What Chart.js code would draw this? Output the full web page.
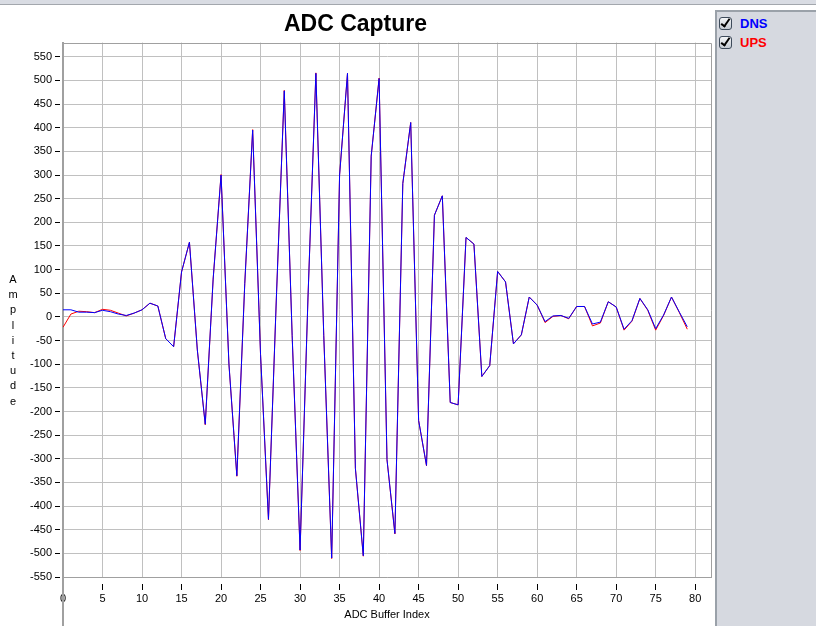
<!DOCTYPE html>
<html><head><meta charset="utf-8">
<script src="https://cdn.jsdelivr.net/npm/chart.js@4.4.1/dist/chart.umd.min.js"></script>
<style>
html,body{margin:0;padding:0;background:#fff;width:816px;height:626px;overflow:hidden;font-family:'Liberation Sans',Arial,sans-serif;}
#wrap{position:absolute;left:0;top:0;width:722px;height:626px;}
#topband{position:absolute;left:0;top:0;width:816px;height:4px;background:#d9dce3;border-bottom:1px solid #a3a7ad;z-index:3;}
#panel{position:absolute;left:715px;top:10px;width:101px;height:616px;background:#d6d9e0;border-left:2px solid #9aa1a9;border-top:2px solid #9aa1a9;box-sizing:border-box;z-index:2;}
.item{position:absolute;left:2px;height:14px;display:flex;align-items:center;}
.cb{width:11px;height:11px;border:1px solid #3e4b5b;border-radius:3px;background:linear-gradient(#f4f6f8,#c3c9d1);position:relative;}
.cb::after{content:'';position:absolute;left:3px;top:-1px;width:3px;height:8px;border-right:2px solid #000;border-bottom:2px solid #000;transform:rotate(35deg);}
.lbl{margin-left:8px;font-weight:bold;font-size:13px;}
#ytitle{position:absolute;left:6px;top:272px;width:14px;text-align:center;font-size:11px;line-height:15.2px;color:#000;}
</style>
</head><body>
<div id="topband"></div>
<div id="wrap"><canvas id="c"></canvas></div>
<div id="ytitle"></div>
<div id="panel">
  <div class="item" style="top:4px"><span class="cb"></span><span class="lbl" style="color:#0000ff">DNS</span></div>
  <div class="item" style="top:23px"><span class="cb"></span><span class="lbl" style="color:#ff0000">UPS</span></div>
</div>
<script>
const chartTitle = 'ADC Capture';
const xTitle = 'ADC Buffer Index';
const yTitle = 'Amplitude';
const bufferIndex = [0,1,2,3,4,5,6,7,8,9,10,11,12,13,14,15,16,17,18,19,20,21,22,23,24,25,26,27,28,29,30,31,32,33,34,35,36,37,38,39,40,41,42,43,44,45,46,47,48,49,50,51,52,53,54,55,56,57,58,59,60,61,62,63,64,65,66,67,68,69,70,71,72,73,74,75,76,77,78,79];
const dns = [15,15,10,10,9,14,11,6,3,8,15,29,23,-46,-63,95,158,-70,-227,80,300,-100,-336,70,395,-80,-428,40,478,-40,-493,40,515,-40,-510,300,515,-320,-505,340,504,-302,-458,282,411,-219,-314,215,256,-181,-186,168,154,-126,-103,96,74,-57,-38,42,25,-10,2,3,-3,22,22,-15,-11,32,21,-26,-8,39,15,-25,4,42,10,-21];
const ups = [-22,6,12,11,9,16,14,8,2,8,15,29,23,-46,-63,95,158,-70,-228,80,301,-100,-337,70,396,-80,-429,40,479,-40,-494,40,516,-40,-511,300,515,-320,-506,340,505,-302,-459,282,411,-219,-315,215,256,-181,-186,168,154,-126,-103,96,74,-57,-38,42,25,-12,1,3,-4,22,22,-19,-13,32,21,-28,-9,39,14,-28,3,42,9,-26];
const xTicksStep = 5;
const yTicksStep = 50;

document.getElementById('ytitle').innerHTML = yTitle.split('').map(ch => '<div>' + ch + '</div>').join('');

Chart.defaults.font.family = "'Liberation Sans', Arial, sans-serif";
Chart.defaults.font.size = 11;
Chart.defaults.color = '#000';

const plotFrame = {
  id: 'plotFrame',
  beforeDatasetsDraw(chart) {
    const {ctx, chartArea: a} = chart;
    ctx.save();
    ctx.strokeStyle = '#a0a0a0';
    ctx.lineWidth = 1;
    ctx.beginPath();
    ctx.moveTo(a.left, Math.round(a.top) + 0.5);
    ctx.lineTo(Math.round(a.right) + 0.5, Math.round(a.top) + 0.5);
    ctx.lineTo(Math.round(a.right) + 0.5, a.bottom);
    ctx.stroke();
    ctx.restore();
  },
  afterDraw(chart) {
    const {ctx, chartArea: a} = chart;
    ctx.save();
    ctx.strokeStyle = '#a0a0a0';
    ctx.lineWidth = 2;
    ctx.beginPath();
    ctx.moveTo(a.left, a.bottom);
    ctx.lineTo(a.left, chart.height);
    ctx.stroke();
    ctx.restore();
  }
};

new Chart(document.getElementById('c'), {
  type: 'line',
  data: {
    datasets: [
      { label: 'DNS', data: bufferIndex.map((x, i) => ({x, y: dns[i]})), borderColor: '#0000ff', borderWidth: 1, pointRadius: 0, tension: 0, fill: false },
      { label: 'UPS', data: bufferIndex.map((x, i) => ({x, y: ups[i]})), borderColor: '#ff0000', borderWidth: 1, pointRadius: 0, tension: 0, fill: false }
    ]
  },
  options: {
    responsive: true,
    maintainAspectRatio: false,
    devicePixelRatio: 1,
    animation: false,
    layout: { padding: { left: 0, right: 11, top: 0, bottom: 0 } },
    plugins: {
      legend: { display: false },
      tooltip: { enabled: false },
      title: { display: true, text: chartTitle, color: '#000', font: { size: 23, weight: 'bold' }, padding: { top: 11, bottom: 4 } }
    },
    scales: {
      x: {
        type: 'linear', min: 0, max: 82,
        afterFit: s => { s.height = 49; },
        border: { display: true, color: '#a0a0a0', width: 1 },
        grid: { color: '#c0c0c0', lineWidth: 1, drawTicks: true, tickLength: 13, tickColor: '#000', tickWidth: 1, tickBorderDash: [0, 6, 7, 50] },
        ticks: { stepSize: xTicksStep, includeBounds: false, autoSkip: false, maxRotation: 0, padding: 2, color: '#000' },
        title: { display: true, text: xTitle, color: '#000', font: { size: 11 }, padding: { top: 0, bottom: 4 } }
      },
      y: {
        type: 'linear', min: -550, max: 580,
        afterFit: s => { s.width = 63; },
        border: { display: true, color: '#a0a0a0', width: 2 },
        grid: { color: '#c0c0c0', lineWidth: 1, drawTicks: true, tickLength: 8, tickColor: '#000', tickWidth: 1, tickBorderDash: [5, 50] },
        ticks: { stepSize: yTicksStep, includeBounds: false, autoSkip: false, padding: 3, color: '#000' }
      }
    }
  },
  plugins: [plotFrame]
});
</script>
</body></html>
